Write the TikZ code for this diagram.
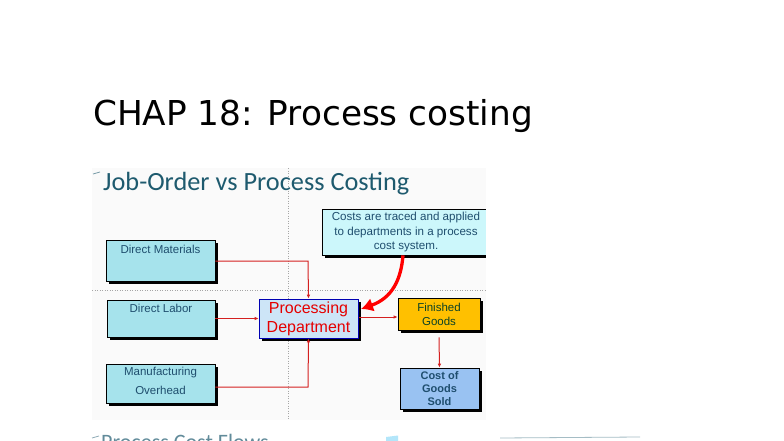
\documentclass[tikz,border=0pt]{standalone}
\usepackage{fontspec}
\setmainfont{Liberation Sans}
\newfontfamily\titlefont{DejaVu Sans}
\newfontfamily\calfont{Carlito}
\usetikzlibrary{arrows.meta,shadows}
\definecolor{boxcyan}{HTML}{A6E3EC}
\definecolor{callcyan}{HTML}{CCF7FB}
\definecolor{procblue}{HTML}{CDE5F7}
\definecolor{fgorange}{HTML}{FFC000}
\definecolor{cgsblue}{HTML}{99C2F2}
\definecolor{tealtxt}{HTML}{1E5A6E}
\definecolor{boxtxt}{HTML}{1F4E6E}
\definecolor{linered}{HTML}{D42020}
\tikzset{
  sbox/.style={draw=black, line width=0.7pt, inner sep=0pt,
    drop shadow={shadow xshift=2.5pt, shadow yshift=-2.5pt, fill=black, opacity=1}},
  lbl/.style={text=boxtxt, font=\fontsize{11.5}{15}\selectfont, align=center, inner sep=0pt},
  conn/.style={draw=linered, line width=1pt, -{Latex[length=4pt,width=3.5pt]}},
  guide/.style={draw=gray!70, line width=0.5pt, dotted}
}
\begin{document}
\begin{tikzpicture}[x=1pt,y=-1pt]
\useasboundingbox (0,0) rectangle (784,441);
\fill[white] (0,0) rectangle (784,441);
\begin{scope}
\clip (0,0) rectangle (784,441);
% title
\node[anchor=base west, inner sep=0pt, font=\titlefont\fontsize{34.3}{40}\selectfont] (title) at (93,125) {CHAP 18: Process costing};
% picture background
\fill[gray!4] (92,168) rectangle (486,420);
\draw[guide] (288,168) -- (288,420);
\draw[guide] (92,290) -- (486,290);
\draw[tealtxt!60, line width=0.8pt] (93,174) -- (100,172);
\node[anchor=base west, inner sep=0pt, text=tealtxt, font=\calfont\fontsize{26.3}{30}\selectfont] (sub) at (103,190) {Job-Order vs Process Costing};
% boxes
\node[sbox, fill=boxcyan, minimum width=109pt, minimum height=41pt] (dm) at (160.5,260.5) {};
\node[lbl, anchor=north] (dmt) at ([yshift=-5pt]dm.north) {Direct Materials};
\node[sbox, fill=boxcyan, minimum width=108pt, minimum height=37pt] (dl) at (161,318.5) {};
\node[lbl, anchor=north] (dlt) at ([yshift=-4pt]dl.north) {Direct Labor};
\node[sbox, fill=boxcyan, minimum width=109pt, minimum height=39pt] (mo) at (160.5,383.5) {};
\node[lbl, anchor=north] (mot) at ([yshift=-3pt]mo.north) {Manufacturing\\[4pt]Overhead};
\node[sbox, draw=blue!70!black, fill=procblue, minimum width=99pt, minimum height=39pt,
  text=red!90!black, font=\fontsize{16}{19}\selectfont, align=center] (pd) at (308.5,318.5) {Processing\\Department};
\node[sbox, fill=fgorange, minimum width=82pt, minimum height=32pt,
  text=boxtxt!70!green!50!black, font=\fontsize{11.5}{14}\selectfont, align=center] (fg) at (439,314) {Finished\\Goods};
\node[sbox, fill=cgsblue, minimum width=79pt, minimum height=41pt,
  text=boxtxt, font=\bfseries\fontsize{11}{12.8}\selectfont, align=center] (cgs) at (439.5,388.5) {Cost of\\Goods\\Sold};
\node[sbox, fill=callcyan, minimum width=168pt, minimum height=46pt,
  text=boxtxt, font=\fontsize{11.6}{14.2}\selectfont, align=center] (call) at (406,232) {Costs are traced and applied\\to departments in a process\\cost system.};
% cover right edge beyond picture
\fill[white] (486,160) rectangle (784,430);
% connectors
\coordinate (j1) at (308,261);
\coordinate (j2) at (308,387);
\coordinate (j3) at (359,317);
\coordinate (tip) at (361,309);
\draw[conn] (dm.east |- j1) -- (j1) -- (pd.north);
\draw[conn] (dl.east) -- (pd.west);
\draw[conn] (mo.east |- j2) -- (j2) -- (pd.south);
\draw[conn] (j3) -- (j3 -| fg.west);
\draw[conn] ([yshift=-7pt]fg.south) -- (cgs.north);
\draw[draw=red, line width=3.3pt, -{Latex[length=12pt,width=14pt]}]
  (call.south -| 403,0) .. controls (401,280) and (392,298) .. (tip);
% bottom fragment
\node[anchor=north west, inner sep=0pt, text=tealtxt!70, font=\calfont\fontsize{22}{26}\selectfont] (next) at (101,434.5) {Process Cost Flows};
\draw[tealtxt!50, line width=0.8pt] (92,438) -- (99,436);
\fill[cyan!30] (386,437) -- (398,435.5) -- (398,441) -- (386,441) -- cycle;
\draw[tealtxt!40, line width=0.8pt] (500,438) -- (640,437);
\end{scope}
\end{tikzpicture}
\end{document}
